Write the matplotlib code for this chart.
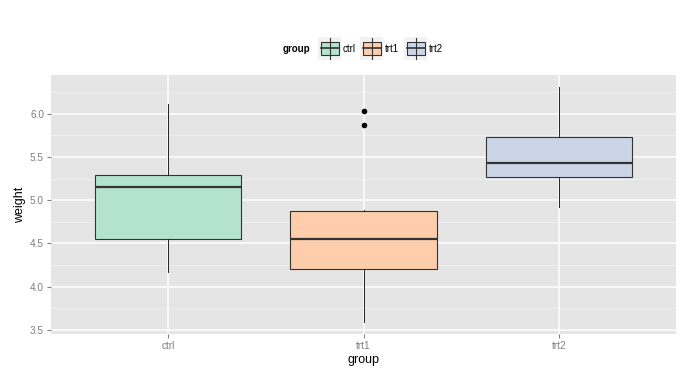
import numpy as np
import matplotlib
matplotlib.use('Agg')
import matplotlib.pyplot as plt
from matplotlib.patches import Rectangle

plt.rcParams['font.family'] = ['Liberation Sans', 'DejaVu Sans']

# PlantGrowth-Daten
groups = ['ctrl', 'trt1', 'trt2']
ctrl = [4.17, 5.58, 5.18, 6.11, 4.50, 4.61, 5.17, 4.53, 5.33, 5.14]
trt1 = [4.81, 4.17, 4.41, 3.59, 5.87, 3.83, 6.03, 4.89, 4.32, 4.69]
trt2 = [6.31, 5.12, 5.54, 5.50, 5.37, 5.29, 4.92, 6.15, 5.80, 5.26]
colors = ['#B3E2CD', '#FDCDAC', '#CBD5E8']
yticks = [3.5, 4.0, 4.5, 5.0, 5.5, 6.0]

W, H = 696, 379
fig = plt.figure(figsize=(W / 100, H / 100), dpi=100)
ax = fig.add_axes([51 / W, 1 - 334 / H, (676 - 51) / W, (334 - 75) / H])
ax.set_facecolor('#E5E5E5')
for s in ax.spines.values():
    s.set_visible(False)

# Gitterlinien
for y in np.arange(3.25, 6.5, 0.5):
    ax.axhline(y, color='#F2F2F2', lw=0.6, zorder=0)
for y in yticks:
    ax.axhline(y, color='white', lw=1.1, zorder=0)
for x in range(1, 4):
    ax.axvline(x, color='white', lw=1.1, zorder=0)

data = [ctrl, trt1, trt2]
bp = ax.boxplot(data, positions=[1, 2, 3], widths=0.75, patch_artist=True,
                showcaps=False, whis=1.5,
                boxprops=dict(color='#333333', lw=0.8),
                whiskerprops=dict(color='#222222', lw=0.7),
                medianprops=dict(color='#333333', lw=1.6),
                flierprops=dict(marker='o', markerfacecolor='black',
                                markeredgecolor='black', markersize=3))
for patch, c in zip(bp['boxes'], colors):
    patch.set_facecolor(c)

ax.set_xlim(0.4, 3.6)
ax.set_ylim(3.454, 6.446)
ax.set_xticks([1, 2, 3])
ax.set_xticklabels(groups)
ax.set_yticks(yticks)
ax.set_yticklabels(['%.1f' % v for v in yticks])
ax.tick_params(colors='#7F7F7F', labelsize=7.2, length=3, width=0.8, pad=2)
ax.set_xlabel('group', fontsize=9, labelpad=2)
ax.set_ylabel('weight', fontsize=9, labelpad=3)

# Legende oben (Pixelkoordinaten)
lax = fig.add_axes([0, 0, 1, 1], facecolor='none')
lax.set_xlim(0, W)
lax.set_ylim(H, 0)
lax.axis('off')
lax.text(283, 49, 'group', fontsize=7, fontweight='bold', va='center', ha='left')
key_x = [318, 360, 404]
for kx, c, g in zip(key_x, colors, groups):
    lax.add_patch(Rectangle((kx, 37), 23, 23, facecolor='#F2F2F2', edgecolor='none'))
    cx = kx + 11.5
    lax.plot([cx, cx], [38, 59], color='#333333', lw=0.8)
    lax.add_patch(Rectangle((kx + 2.5, 42), 18, 12.5, facecolor=c,
                            edgecolor='#333333', lw=0.8))
    lax.plot([kx + 2.5, kx + 20.5], [48.2, 48.2], color='#333333', lw=1.2)
    lax.text(kx + 25, 49, g, fontsize=7, va='center', ha='left')

fig.savefig('out.png', dpi=100)
